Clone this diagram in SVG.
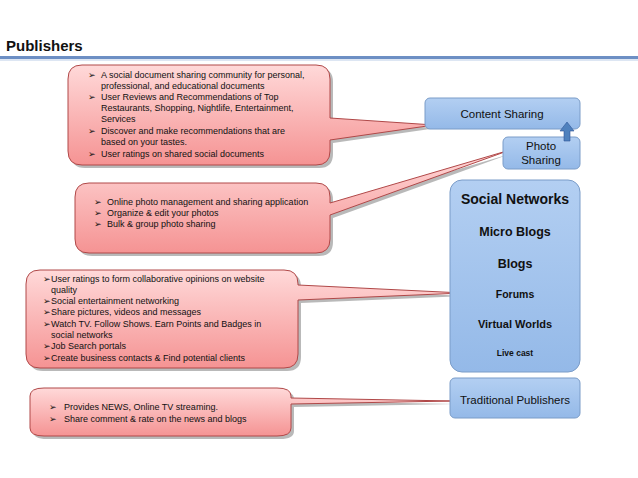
<svg xmlns="http://www.w3.org/2000/svg" width="638" height="478" viewBox="0 0 638 478">
<defs>
<linearGradient id="pk" x1="0" y1="0" x2="0" y2="1"><stop offset="0" stop-color="#ffd9d9"/><stop offset="1" stop-color="#f59393"/></linearGradient>
<linearGradient id="bl" x1="0" y1="0" x2="0" y2="1"><stop offset="0" stop-color="#b3cff2"/><stop offset="1" stop-color="#94b9e8"/></linearGradient>
<style>
.c{fill:url(#pk);stroke:#b04848;stroke-width:1}
.s{fill:#8a8a8a;opacity:0.6}
.b{fill:url(#bl);stroke:#7a9cc8;stroke-width:1}
text{font-family:"Liberation Sans",Arial,sans-serif;fill:#111}
.t{font-size:9px}
.n{font-size:11.5px;text-anchor:middle}
.h{font-weight:bold;text-anchor:middle}
</style>
</defs>
<rect width="638" height="478" fill="#fff"/>
<text x="6" y="51" style="font-size:15px;font-weight:bold">Publishers</text>
<rect x="0" y="56" width="638" height="3" fill="#6d8fc4"/>
<rect x="0" y="59" width="638" height="2" fill="#dde6f3"/>

<g id="callout1">
<path class="s" transform="translate(3,3)" d="M82,65 H316 Q330,65 330,79 V118 L434,125 L330,140 V151 Q330,165 316,165 H82 Q68,165 68,151 V79 Q68,65 82,65Z"/>
<path class="c" d="M82,65 H316 Q330,65 330,79 V118 L434,125 L330,140 V151 Q330,165 316,165 H82 Q68,165 68,151 V79 Q68,65 82,65Z"/>
<text class="t"><tspan x="88" y="78">➢</tspan><tspan x="101">A social document sharing community for personal,</tspan>
<tspan x="101" y="89">professional, and educational documents</tspan>
<tspan x="88" y="100">➢</tspan><tspan x="101">User Reviews and Recommendations of Top</tspan>
<tspan x="101" y="111">Restaurants, Shopping, Nightlife, Entertainment,</tspan>
<tspan x="101" y="122">Services</tspan>
<tspan x="88" y="134">➢</tspan><tspan x="101">Discover and make recommendations that are</tspan>
<tspan x="101" y="145">based on your tastes.</tspan>
<tspan x="88" y="157">➢</tspan><tspan x="101">User ratings on shared social documents</tspan></text>
</g>

<g id="callout2">
<path class="s" transform="translate(3,3)" d="M89,183 H316 Q330,183 330,197 V203 L510,150 L330,215 V239 Q330,253 316,253 H89 Q75,253 75,239 V197 Q75,183 89,183Z"/>
<path class="c" d="M89,183 H316 Q330,183 330,197 V203 L510,150 L330,215 V239 Q330,253 316,253 H89 Q75,253 75,239 V197 Q75,183 89,183Z"/>
<text class="t"><tspan x="94" y="205">➢</tspan><tspan x="107">Online photo management and sharing application</tspan>
<tspan x="94" y="216">➢</tspan><tspan x="107">Organize &amp; edit your photos</tspan>
<tspan x="94" y="227">➢</tspan><tspan x="107">Bulk &amp; group photo sharing</tspan></text>
</g>

<g id="callout3">
<path class="s" transform="translate(3,3)" d="M40,270 H284 Q298,270 298,284 V285 L463,293 L298,300 V354 Q298,368 284,368 H40 Q26,368 26,354 V284 Q26,270 40,270Z"/>
<path class="c" d="M40,270 H284 Q298,270 298,284 V285 L463,293 L298,300 V354 Q298,368 284,368 H40 Q26,368 26,354 V284 Q26,270 40,270Z"/>
<text class="t"><tspan x="43" y="282">➢User ratings to form collaborative opinions on website</tspan>
<tspan x="51" y="293">quality</tspan>
<tspan x="43" y="304">➢Social entertainment networking</tspan>
<tspan x="43" y="315">➢Share pictures, videos and messages</tspan>
<tspan x="43" y="327">➢Watch TV. Follow Shows. Earn Points and Badges in</tspan>
<tspan x="51" y="338">social networks</tspan>
<tspan x="43" y="349">➢Job Search portals</tspan>
<tspan x="43" y="361">➢Create business contacts &amp; Find potential clients</tspan></text>
</g>

<g id="callout4">
<path class="s" transform="translate(3,3)" d="M44,388 H277 Q291,388 291,396 V398 L453,401 L291,404 V428 Q291,436 277,436 H44 Q30,436 30,428 V396 Q30,388 44,388Z"/>
<path class="c" d="M44,388 H277 Q291,388 291,396 V398 L453,401 L291,404 V428 Q291,436 277,436 H44 Q30,436 30,428 V396 Q30,388 44,388Z"/>
<text class="t"><tspan x="49" y="410">➢</tspan><tspan x="64">Provides NEWS, Online TV streaming.</tspan>
<tspan x="49" y="422">➢</tspan><tspan x="64">Share comment &amp; rate on the news and blogs</tspan></text>
</g>

<g id="content-sharing">
<rect class="b" x="425" y="98" width="155" height="31" rx="5"/>
<text class="n" x="502" y="118">Content Sharing</text>
</g>
<g id="photo-sharing">
<rect class="b" x="503" y="137" width="77" height="32" rx="5"/>
<text class="n" x="541" y="150">Photo</text>
<text class="n" x="541" y="164">Sharing</text>
</g>
<g id="social">
<rect class="b" x="450" y="180" width="130" height="192" rx="12"/>
<text class="h" x="515" y="204" style="font-size:14px">Social Networks</text>
<text class="h" x="515" y="236" style="font-size:12.5px">Micro Blogs</text>
<text class="h" x="515" y="268" style="font-size:12.5px">Blogs</text>
<text class="h" x="515" y="298" style="font-size:10.5px">Forums</text>
<text class="h" x="515" y="328" style="font-size:11px">Virtual Worlds</text>
<text class="h" x="515" y="356" style="font-size:8.5px">Live cast</text>
</g>
<g id="traditional">
<rect class="b" x="450" y="378" width="130" height="40" rx="5"/>
<text class="n" x="515" y="404">Traditional Publishers</text>
</g>
<g id="connectors">
<path d="M564,141 V131 H560 L567,122 L574,131 H570 V141Z" fill="#4f81bd" stroke="#2f5597" stroke-width="0.6"/>
</g>
</svg>
